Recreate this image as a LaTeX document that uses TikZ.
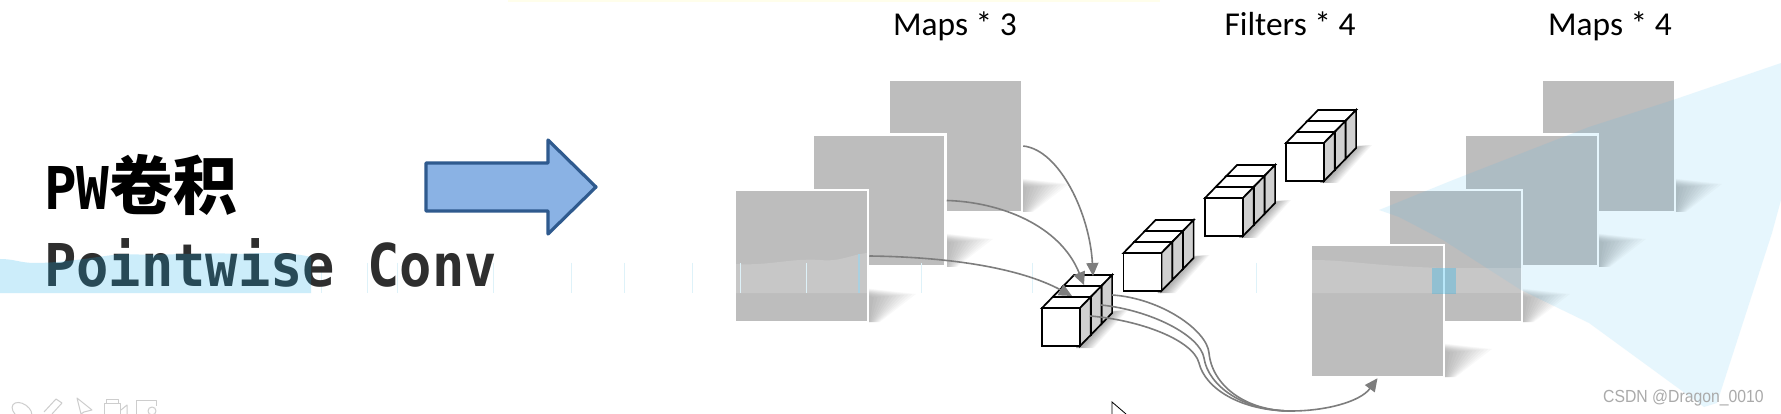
\documentclass[tikz,border=0pt]{standalone}
\usepackage{fontspec}
\usetikzlibrary{arrows.meta,calc}
\setmainfont{Carlito}
\newfontfamily\cjkfont{Noto Sans CJK SC}
\newfontfamily\monofam{DejaVu Sans Mono}
\newfontfamily\markfont{Liberation Sans}
\definecolor{mapgray}{RGB}{189,189,189}
\definecolor{sidegray}{RGB}{208,208,208}
\definecolor{curvegray}{RGB}{125,125,125}
\definecolor{arrowfill}{RGB}{138,178,228}
\definecolor{arrowline}{RGB}{47,90,142}
\definecolor{bandblue}{RGB}{23,177,236}
\definecolor{wideblue}{RGB}{68,188,240}
\definecolor{paleline}{RGB}{222,242,249}
\definecolor{strongline}{RGB}{170,208,224}
\definecolor{iconline}{RGB}{205,205,205}
\definecolor{markgray}{RGB}{170,170,170}
\tikzset{
  mapbox/.style={rectangle,draw=white,line width=2.5pt,fill=mapgray,inner sep=0pt,minimum width=133pt,minimum height=132pt},
  heading/.style={font=\fontsize{33.4}{35}\selectfont,text=black,anchor=base,inner sep=0pt},
  bigtext/.style={anchor=base west,inner sep=0pt},
  curve/.style={draw=curvegray,line width=1.6pt},
  curvetip/.style={curve,-{Triangle[width=12pt,length=13pt,fill=curvegray]}},
  cubeline/.style={draw=black,line width=1.7pt,line join=miter},
  facenode/.style={rectangle,draw=black,line width=1.7pt,fill=white,inner sep=0pt,minimum width=38pt,minimum height=38pt},
  iconstyle/.style={draw=iconline,line width=1pt,line join=round},
  shadowlayer/.style={fill=black,fill opacity=#1},
}
% cube group: name, x, y of the front face's top-left corner
\newcommand{\cubegroup}[3]{%
  \foreach \t in {1,.92,...,.1}{
    \fill[shadowlayer=.035] (#2+34,#3+40) -- (#2+68,#3+4) -- (#2+68+18*\t,#3+2) -- (#2+34+18*\t,#3+40) -- cycle;
  }
  \foreach \k/\dx/\dy in {3/21.4/-22,2/10.7/-11,1/0/0}{
    \fill[white,cubeline] (#2+\dx,#3+\dy) -- (#2+\dx+10.7,#3+\dy-11) -- (#2+\dx+48.7,#3+\dy-11) -- (#2+\dx+38,#3+\dy) -- cycle;
    \fill[sidegray,cubeline] (#2+\dx+38,#3+\dy) -- (#2+\dx+48.7,#3+\dy-11) -- (#2+\dx+48.7,#3+\dy+27) -- (#2+\dx+38,#3+\dy+38) -- cycle;
    \node[facenode] (#1\k) at (#2+\dx+19,#3+\dy+19) {};
  }
}
% shadow cast by a map: x, y of its bottom right corner
\newcommand{\mapshadow}[2]{%
  \foreach \t in {1,.92,...,.1}{
    \fill[shadowlayer=.024] (#1-5,#2-34+6-6*\t) -- (#1+48*\t,#2-28+4-4*\t) -- (#1+12*\t,#2) -- (#1-5,#2) -- cycle;
  }
}
\begin{document}
\begin{tikzpicture}[x=1pt,y=-1pt]
\useasboundingbox (0,0) rectangle (1781,414);
\fill[white] (0,0) rectangle (1781,414);
\fill[yellow!8] (508,0) rectangle (1160,2);

% shadows under the maps
\mapshadow{1021}{212}
\mapshadow{945}{267}
\mapshadow{868}{322}
\mapshadow{1674}{212}
\mapshadow{1598}{267}
\mapshadow{1522}{322}
\mapshadow{1444}{377}

% maps
\node[mapbox] (mapC) at (955.5,146) {};
\node[mapbox] (mapB) at (879,200.5) {};
\node[mapbox] (mapA) at (801.5,256) {};
\node[mapbox] (outD) at (1608.5,146) {};
\node[mapbox] (outC) at (1531.5,200.5) {};
\node[mapbox] (outB) at (1455.5,256) {};

% lighter band over the left map and the pale lines
\fill[white,opacity=.16] (735,264) .. controls (770,266) and (790,258) .. (820,260) .. controls (840,262) and (850,255) .. (867,253) -- (867,293) -- (735,293) -- cycle;
\foreach \px in {740,806,1032,921,1256,321,367,397,493,571,624,692}{
  \draw[paleline,line width=.8pt] (\px,263) -- (\px,293);
}
\draw[strongline,line width=1.2pt] (859,254) -- (859,293);

% pale blue wash on the right
\fill[wideblue,opacity=.13] (1781,63) -- (1673,100) -- (1589,127) -- (1453,180) -- (1379,210) -- (1399,217) -- (1443,240) -- (1521,290) -- (1589,323) -- (1704,407) -- (1717,403) -- (1772,233) -- (1781,200) -- cycle;
\fill[white,opacity=.16] (1444,268) rectangle (1522,293);

% front map on the right, with its band and blue patch
\node[mapbox] (outA) at (1377.5,311) {};
\fill[white,opacity=.16] (1311,260) .. controls (1350,260) and (1370,266) .. (1444,268) -- (1444,293) -- (1311,293) -- cycle;
\fill[bandblue,opacity=.3] (1432,268) rectangle (1456,294);

% text
\node[bigtext] (title) at (44,210) {\fontsize{59}{60}\selectfont\monofam\bfseries\scalebox{.92}[1]{PW}\cjkfont\bfseries\fontsize{64}{66}\selectfont 卷积};
\node[bigtext,text=black!82] (subtitle) at (44,287) {\fontsize{59}{60}\selectfont\monofam\bfseries\scalebox{.91}[1]{Pointwise Conv}};

% band under the second line
\fill[bandblue,opacity=.22] (0,259) .. controls (15,259) and (20,263) .. (35,263) .. controls (60,263) and (90,258) .. (120,254) .. controls (170,256) and (200,252) .. (240,254) .. controls (270,252) and (295,253) .. (311,257) -- (311,293) -- (0,293) -- cycle;

% big arrow
\node[inner sep=0pt] (bigarrow) at (511,187) {};
\draw[fill=arrowfill,draw=arrowline,line width=3.2pt,line join=round] ($(bigarrow)+(-85,-24)$) -- ($(bigarrow)+(37,-24)$) -- ($(bigarrow)+(37,-47)$) -- ($(bigarrow)+(85,0)$) -- ($(bigarrow)+(37,47)$) -- ($(bigarrow)+(37,24)$) -- ($(bigarrow)+(-85,24)$) -- cycle;

% headings
\node[heading] (h1) at (955,36) {Maps * 3};
\node[heading] (h2) at (1290,36) {Filters * 4};
\node[heading] (h3) at (1610,36) {Maps * 4};

% filters
\cubegroup{cubeD}{1286}{143}
\cubegroup{cubeC}{1205}{198}
\cubegroup{cubeB}{1123.5}{253}
\cubegroup{cubeA}{1042}{308}

% connectors
\coordinate (inC) at (1093,276);
\coordinate (inB) at (1084,285);
\coordinate (inA) at (1072,296);
\coordinate (outstart3) at (1112,295);
\coordinate (outstart2) at (1101,305);
\coordinate (outstart1) at (1090,316);
\coordinate (lowpoint) at (1291,411);
\draw[curvetip] (mapC.east) .. controls (1060,150) and (1090,215) .. (inC);
\draw[curvetip] (mapB.east) .. controls (1000,202) and (1060,225) .. (inB);
\draw[curvetip] (mapA.east) .. controls (950,257) and (1020,268) .. (inA);
\draw[curve] (outstart3) .. controls (1160,298) and (1207,330) .. (1209,353) .. controls (1212,385) and (1245,411) .. (lowpoint);
\draw[curve] (outstart2) .. controls (1150,310) and (1200,335) .. (1204,358) .. controls (1208,385) and (1242,411) .. (lowpoint);
\draw[curve] (outstart1) .. controls (1140,320) and (1193,340) .. (1199,363) .. controls (1205,388) and (1240,411) .. (lowpoint);
\draw[curvetip] (lowpoint) .. controls (1325,411) and (1360,402) .. (outA.south);

% toolbar icons
\draw[iconstyle,rotate around={-35:(22,411)}] (22,411) ellipse (11pt and 7pt);
\draw[iconstyle] (44,412) -- (56,399) -- (62,403) -- (52,414);
\draw[iconstyle] (77,398) -- (92,410) -- (84,412) -- (81,414) -- cycle;
\draw[iconstyle] (104,414) -- (104,403) -- (120,403) -- (120,414);
\draw[iconstyle] (106,403) -- (106,399) -- (118,399) -- (118,403);
\draw[iconstyle] (121,410) -- (127,405) -- (127,414);
\draw[iconstyle] (136,414) -- (136,400) -- (156,400) -- (156,406);
\draw[iconstyle] (152,411) circle (4pt);

% mouse pointer
\draw[draw=black,fill=white,line width=.8pt] (1112,414) -- (1112,402) -- (1126,414);

% watermark
\node[inner sep=0pt,anchor=base west,text=markgray] (mark) at (1603,402) {\markfont\fontsize{17.5}{20}\selectfont\scalebox{.9}[1]{CSDN @Dragon\_0010}};
\end{tikzpicture}
\end{document}
